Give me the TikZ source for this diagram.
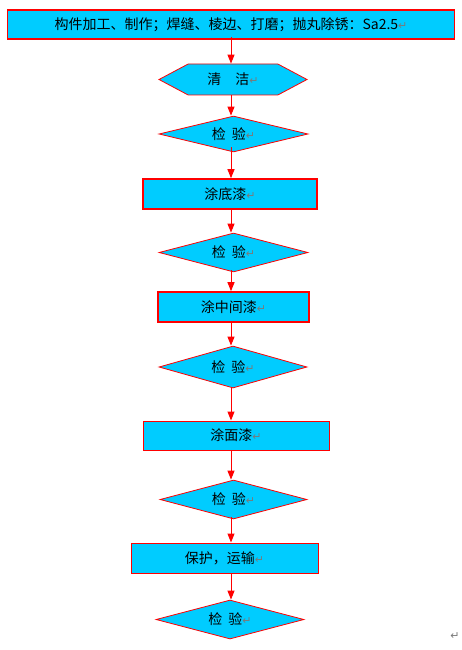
\documentclass[tikz,border=0pt]{standalone}
\usepackage{fontspec}
\setmainfont{Noto Sans CJK SC}
\newfontfamily\symfont{DejaVu Sans}
\usetikzlibrary{shapes.geometric,shapes.symbols,arrows.meta}
\definecolor{boxfill}{HTML}{00CCFF}
\definecolor{boxline}{HTML}{FF0000}
\definecolor{pmark}{HTML}{7A7A7A}
\newcommand{\parmark}{{\symfont\fontsize{11}{11}\selectfont\textcolor{pmark}{↵}}}
\tikzset{
  base/.style={fill=boxfill, draw=boxline, inner sep=0pt, font=\fontsize{14}{14}\selectfont, text=black},
  thickbox/.style={base, rectangle, line width=1.6pt},
  thinbox/.style={base, rectangle, line width=1pt},
  hexbox/.style={base, signal, signal to=west and east, signal pointer angle=56, line width=0.8pt},
  chkbox/.style={base, diamond, aspect=5, line width=0.8pt},
  arr/.style={draw=boxline, line width=1pt, -{Triangle[length=9pt,width=7pt]}}
}
\begin{document}
\begin{tikzpicture}[x=1pt,y=-1pt]
\useasboundingbox (0,0) rectangle (461,650);
\coordinate (ax) at (231,0);
\node[thickbox, minimum width=447pt, minimum height=29pt] (top) at (231,24.5) {构件加工、制作；焊缝、棱边、打磨；抛丸除锈：Sa2.5\parmark};
\node[hexbox, minimum width=148pt, minimum height=31pt] (hex) at (233,79.5) {清\hspace{14pt}洁\parmark};
\node[chkbox, minimum width=149pt, minimum height=36pt] (c1) at (233.5,134) {检\hspace{6pt}验\parmark};
\node[thickbox, minimum width=174pt, minimum height=30pt] (r1) at (230,194) {涂底漆\parmark};
\node[chkbox, minimum width=149pt, minimum height=39pt] (c2) at (233.5,252.5) {检\hspace{6pt}验\parmark};
\node[thickbox, minimum width=151pt, minimum height=30pt] (r2) at (233.5,307) {涂中间漆\parmark};
\node[chkbox, minimum width=148pt, minimum height=42pt] (c3) at (233,367) {检\hspace{6pt}验\parmark};
\node[thinbox, minimum width=186pt, minimum height=29pt] (r3) at (236,435.5) {涂面漆\parmark};
\node[chkbox, minimum width=147pt, minimum height=39pt] (c4) at (233.5,499.5) {检\hspace{6pt}验\parmark};
\node[thinbox, minimum width=187pt, minimum height=30pt] (r4) at (224.5,558) {保护，运输\parmark};
\node[chkbox, minimum width=148pt, minimum height=39pt] (c5) at (230,619.5) {检\hspace{6pt}验\parmark};
\node[inner sep=0pt] (endmark) at (455,636) {\parmark};
\draw[arr] ([yshift=3pt]top.south -| ax) -- (hex.north -| ax);
\draw[arr] (hex.south -| ax) -- (c1.north -| ax);
\draw[arr] ([yshift=5pt]c1.south -| ax) -- (r1.north -| ax);
\draw[arr] (r1.south -| ax) -- (c2.north -| ax);
\draw[arr] ([yshift=2pt]c2.south -| ax) -- (r2.north -| ax);
\draw[arr] (r2.south -| ax) -- (c3.north -| ax);
\draw[arr] (c3.south -| ax) -- (r3.north -| ax);
\draw[arr] (r3.south -| ax) -- (c4.north -| ax);
\draw[arr] ([yshift=2pt]c4.south -| ax) -- (r4.north -| ax);
\draw[arr] (r4.south -| ax) -- (c5.north -| ax);
\end{tikzpicture}
\end{document}
